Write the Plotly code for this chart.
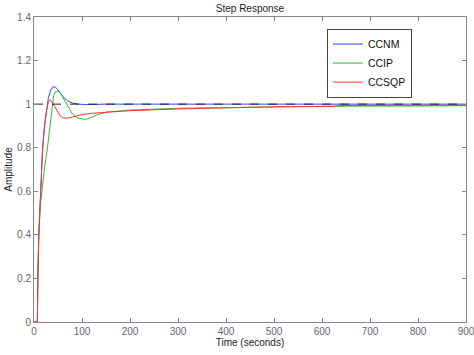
import plotly.graph_objects as go

# CCNM (blue)
t_ccnm = [0, 7, 8, 10, 14, 18, 22, 26, 30, 35, 40, 45, 50, 55, 60, 70, 80, 92, 110, 150, 200, 300, 900]
y_ccnm = [0, 0, 0.2, 0.4, 0.6, 0.8, 0.9, 0.97, 1.03, 1.065, 1.08, 1.077, 1.066, 1.05, 1.035, 1.015, 1.005, 1.0, 0.998, 1.0, 1.0, 1.0, 1.0]

# CCIP (green)
t_ccip = [0, 7, 8, 10, 13, 17, 22, 28, 33, 37, 41, 45, 50, 55, 60, 70, 80, 90, 100, 106, 115, 130, 150, 200, 300, 400, 600, 900]
y_ccip = [0, 0, 0.2, 0.4, 0.53, 0.62, 0.71, 0.8, 0.9, 0.99, 1.04, 1.058, 1.06, 1.05, 1.03, 0.99, 0.955, 0.937, 0.932, 0.93, 0.935, 0.95, 0.963, 0.973, 0.981, 0.985, 0.99, 0.993]

# CCSQP (red)
t_ccsqp = [0, 7, 8, 10, 14, 18, 22, 26, 30, 33, 36, 40, 45, 50, 55, 60, 68, 75, 85, 100, 120, 150, 200, 300, 400, 500, 620, 640, 900]
y_ccsqp = [0, 0, 0.2, 0.4, 0.6, 0.8, 0.9, 0.97, 1.01, 1.02, 1.015, 1.0, 0.98, 0.96, 0.945, 0.938, 0.935, 0.938, 0.945, 0.952, 0.958, 0.963, 0.97, 0.978, 0.984, 0.988, 0.99, 0.994, 0.995]

ref_t = [0, 900]
ref_y = [1, 1]

x_ticks = [0, 100, 200, 300, 400, 500, 600, 700, 800, 900]
y_ticks = [0, 0.2, 0.4, 0.6, 0.8, 1.0, 1.2, 1.4]
y_tick_text = ["0", "0.2", "0.4", "0.6", "0.8", "1", "1.2", "1.4"]

FONT = "Liberation Sans, Arial"

fig = go.Figure()
fig.add_trace(go.Scatter(x=t_ccnm, y=y_ccnm, mode="lines", name="CCNM",
                         line=dict(color="#3344ff", width=1)))
fig.add_trace(go.Scatter(x=t_ccip, y=y_ccip, mode="lines", name="CCIP",
                         line=dict(color="#33bb33", width=1)))
fig.add_trace(go.Scatter(x=t_ccsqp, y=y_ccsqp, mode="lines", name="CCSQP",
                         line=dict(color="#ff3333", width=1)))
fig.add_trace(go.Scatter(x=ref_t, y=ref_y, mode="lines", showlegend=False,
                         line=dict(color="#222222", width=1, dash="dash")))

axis_common = dict(showgrid=False, zeroline=False, showline=True, linecolor="#888888",
                   linewidth=1, mirror="ticks", ticks="inside", ticklen=4, automargin=False,
                   ticklabeloverflow="allow",
                   tickcolor="#888888", tickfont=dict(family=FONT, size=10, color="#666666"))

fig.update_layout(
    width=474, height=355,
    margin=dict(l=34, r=8, t=17, b=33),
    paper_bgcolor="white", plot_bgcolor="white",
    title=dict(text="Step Response", x=0.5, xref="paper", y=0.975, yanchor="middle",
               font=dict(family=FONT, size=10, color="#222222")),
    xaxis=dict(range=[0, 900.001], tickvals=x_ticks, **axis_common,
               title=dict(text="Time (seconds)", standoff=2,
                          font=dict(family=FONT, size=10, color="#222222"))),
    yaxis=dict(range=[0, 1.4], tickvals=y_ticks, ticktext=y_tick_text, **axis_common,
               title=dict(text="Amplitude", standoff=2,
                          font=dict(family=FONT, size=10, color="#222222"))),
    legend=dict(x=0.678, y=0.962, xanchor="left", yanchor="top",
                bgcolor="white", bordercolor="#444444", borderwidth=1,
                font=dict(family=FONT, size=10.5, color="#111111"),
                tracegroupgap=0, itemwidth=30),
    showlegend=True,
)

fig.write_html("out.html", post_script="document.body.style.margin='0';",
               config={"displayModeBar": False})
